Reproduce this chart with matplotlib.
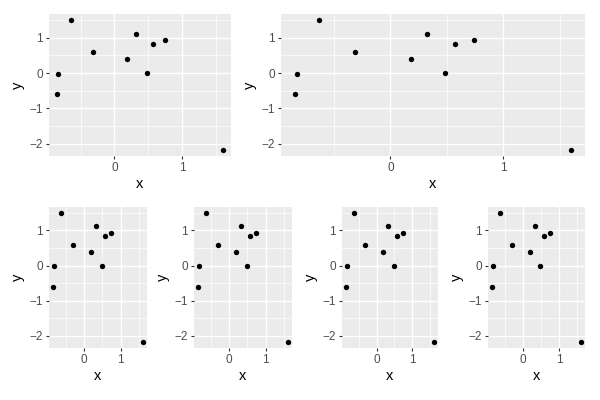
import numpy as np
import matplotlib
matplotlib.use("Agg")
import matplotlib.pyplot as plt

# Data (same points in every panel)
x = [-0.846, -0.828, -0.636, -0.314, 0.183, 0.325, 0.485, 0.574, 0.743, 1.600]
y = [-0.60, -0.02, 1.486, 0.60, 0.40, 1.114, 0.0, 0.83, 0.94, -2.16]

x_ticks = [0, 1]
x_minor = [-0.5, 0.5, 1.5]
y_ticks = [-2, -1, 0, 1]
y_minor = [-1.5, -0.5, 0.5, 1.5]

plt.rcParams['font.family'] = ['Liberation Sans', 'DejaVu Sans']

W, H = 600, 400
fig = plt.figure(figsize=(6, 4), dpi=100)

# panel boxes in pixels: (left, top, right, bottom)
boxes = [
    (49, 14, 231, 156),
    (281, 14, 585, 156),
    (49, 207, 147, 348),
    (194, 207, 292, 348),
    (342, 207, 438, 348),
    (488, 207, 585, 348),
]

xr = max(x) - min(x)
yr = max(y) - min(y)

for (l, t, r, b) in boxes:
    ax = fig.add_axes([l / W, 1 - b / H, (r - l) / W, (b - t) / H])
    ax.set_facecolor('#EBEBEB')
    ax.scatter(x, y, s=15, color='black', zorder=3, linewidths=0)
    ax.set_xlim(min(x) - 0.05 * xr, max(x) + 0.05 * xr)
    ax.set_ylim(min(y) - 0.05 * yr, max(y) + 0.05 * yr)
    ax.set_xticks(x_ticks)
    ax.set_xticks(x_minor, minor=True)
    ax.set_yticks(y_ticks)
    ax.set_yticks(y_minor, minor=True)
    ax.grid(which='major', color='white', linewidth=1.0)
    ax.grid(which='minor', color='white', linewidth=0.5)
    ax.set_axisbelow(True)
    for s in ax.spines.values():
        s.set_visible(False)
    ax.tick_params(which='major', length=2.5, width=0.8, color='#333333',
                   labelsize=8.5, labelcolor='#4D4D4D', pad=2)
    ax.tick_params(which='minor', length=0)
    ax.set_xlabel('x', fontsize=10.5, labelpad=2)
    ax.set_ylabel('y', fontsize=10.5, labelpad=3)

fig.savefig('out.png', dpi=100, facecolor='white')
